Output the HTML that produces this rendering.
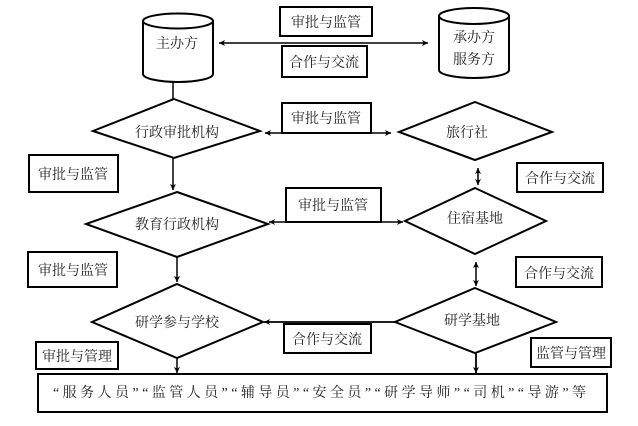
<!DOCTYPE html>
<html><head><meta charset="utf-8"><style>
html,body{margin:0;padding:0;background:#fff;}
svg{display:block;}
text{font-family:"Liberation Serif","Noto Serif CJK SC",serif;font-size:14px;fill:#222;}
</style></head><body>
<svg width="638" height="426" viewBox="0 0 638 426" xmlns="http://www.w3.org/2000/svg">
<defs>
<marker id="a" markerWidth="8" markerHeight="8" refX="6" refY="3" orient="auto" markerUnits="userSpaceOnUse">
<path d="M0,0 L6,3 L0,6 L1.5,3 Z" fill="#000"/>
</marker>
<marker id="s" markerWidth="8" markerHeight="8" refX="0" refY="3" orient="auto" markerUnits="userSpaceOnUse">
<path d="M6,0 L0,3 L6,6 L4.5,3 Z" fill="#000"/>
</marker>
</defs>
<g fill="none" stroke="#000">
<!-- cylinders -->
<path d="M143,21 L143,74 A35,8 0 0 0 213,74 L213,21" stroke-width="2" fill="#fff"/>
<ellipse cx="178" cy="21" rx="35" ry="7.5" stroke-width="2" fill="#fff"/>
<path d="M439,16 L439,70 A35,8 0 0 0 509,70 L509,16" stroke-width="2" fill="#fff"/>
<ellipse cx="474" cy="16" rx="35" ry="8" stroke-width="2" fill="#fff"/>

<!-- diamonds -->
<polygon points="174,99 260,131 174,158 93,131" stroke-width="2"/>
<polygon points="177,192 268,224 177,257 86,224" stroke-width="2"/>
<polygon points="177,284 263,322 177,358 92,322" stroke-width="2"/>
<polygon points="475,102 552,132 475,160 399,132" stroke-width="2"/>
<polygon points="475,188 546,221 475,254 405,221" stroke-width="2"/>
<polygon points="475,288 556,322 475,353 395,322" stroke-width="2"/>

<!-- boxes -->
<rect x="280" y="7" width="92" height="29" stroke-width="2"/>
<rect x="282" y="46" width="85" height="31" stroke-width="2"/>
<rect x="282" y="103" width="89" height="30" stroke-width="2"/>
<rect x="286" y="188" width="95" height="34" stroke-width="2"/>
<rect x="284" y="324" width="87" height="29" stroke-width="2"/>
<rect x="29" y="155" width="89" height="37" stroke-width="2"/>
<rect x="28" y="252" width="89" height="35" stroke-width="2"/>
<rect x="36" y="342" width="82" height="27" stroke-width="2"/>
<rect x="517" y="163" width="86" height="29" stroke-width="2"/>
<rect x="516" y="257" width="86" height="30" stroke-width="2"/>
<rect x="531" y="338" width="80" height="29" stroke-width="2"/>
<rect x="38" y="374" width="569" height="38" stroke-width="2"/>

<!-- connectors -->
<line x1="173" y1="82" x2="173" y2="99" stroke-width="1.5"/>
<line x1="219" y1="43" x2="428" y2="43" stroke-width="1.5" marker-start="url(#s)" marker-end="url(#a)"/>
<line x1="265" y1="133" x2="391" y2="133" stroke-width="1.5" marker-start="url(#s)" marker-end="url(#a)"/>
<line x1="173" y1="158" x2="173" y2="190" stroke-width="1.5" marker-end="url(#a)"/>
<line x1="269" y1="222" x2="403" y2="222" stroke-width="1.5" marker-start="url(#s)" marker-end="url(#a)"/>
<line x1="177" y1="257" x2="177" y2="282" stroke-width="1.5" marker-end="url(#a)"/>
<line x1="478" y1="168" x2="478" y2="185" stroke-width="1.5" marker-start="url(#s)" marker-end="url(#a)"/>
<line x1="476" y1="262" x2="476" y2="286" stroke-width="1.5" marker-start="url(#s)" marker-end="url(#a)"/>
<line x1="395" y1="322" x2="264" y2="322" stroke-width="1.8" marker-end="url(#a)"/>
<line x1="177" y1="358" x2="177" y2="373" stroke-width="1.5" marker-end="url(#a)"/>
<line x1="476" y1="353" x2="476" y2="373" stroke-width="1.8" marker-end="url(#a)"/>
</g>

<!-- labels -->
<g text-anchor="middle">
<text x="177" y="48">主办方</text>
<text x="474" y="42">承办方</text>
<text x="474" y="64">服务方</text>
<text x="326" y="27">审批与监管</text>
<text x="324" y="67">合作与交流</text>
<text x="326" y="123">审批与监管</text>
<text x="333" y="210">审批与监管</text>
<text x="327" y="344">合作与交流</text>
<text x="73" y="179">审批与监管</text>
<text x="73" y="275">审批与监管</text>
<text x="77" y="361">审批与管理</text>
<text x="560" y="183">合作与交流</text>
<text x="559" y="278">合作与交流</text>
<text x="571" y="358">监管与管理</text>
<text x="177" y="137">行政审批机构</text>
<text x="177" y="229">教育行政机构</text>
<text x="177" y="327">研学参与学校</text>
<text x="467" y="137">旅行社</text>
<text x="475" y="223">住宿基地</text>
<text x="472" y="325">研学基地</text>
</g>
<text x="53" y="397" textLength="533" lengthAdjust="spacing">“服务人员”“监管人员”“辅导员”“安全员”“研学导师”“司机”“导游”等</text>
</svg>
</body></html>
